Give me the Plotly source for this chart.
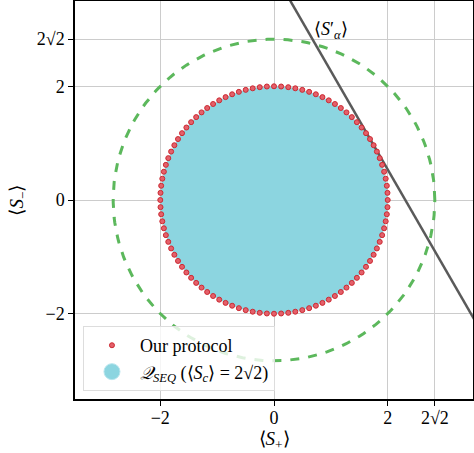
import numpy as np
import plotly.graph_objects as go

# circle of the protocol points and the quantum bound
inner_radius = 2.0
outer_radius = 2 * np.sqrt(2)
n_points = 100
tangent_angle = 30.0   # degrees, where the <S'_alpha> line touches the inner circle

tick_vals = [-2, 0, 2, 2 * np.sqrt(2)]
tick_text = ["\u22122", "0", "2", "2\u221a2"]

theta = np.linspace(0, 2 * np.pi, n_points, endpoint=False)
dots_x = inner_radius * np.cos(theta)
dots_y = inner_radius * np.sin(theta)

# tangent line  x cos(a) + y sin(a) = r
a = np.deg2rad(tangent_angle)
line_x = np.array([-1.0, 5.0])
line_y = (inner_radius - line_x * np.cos(a)) / np.sin(a)

serif = "Liberation Serif"
fig = go.Figure()

# filled disk (no legend)
disk_t = np.linspace(0, 2 * np.pi, 200)
fig.add_trace(go.Scatter(x=inner_radius * np.cos(disk_t), y=inner_radius * np.sin(disk_t),
                         mode="lines", fill="toself", fillcolor="#8cd5e0",
                         line=dict(color="#8cd5e0", width=0), showlegend=False, hoverinfo="skip"))

# dashed outer circle
fig.add_trace(go.Scatter(x=outer_radius * np.cos(disk_t), y=outer_radius * np.sin(disk_t),
                         mode="lines", line=dict(color="#5cb85c", width=3, dash="dash"),
                         showlegend=False, hoverinfo="skip"))

# tangent line
fig.add_trace(go.Scatter(x=line_x, y=line_y, mode="lines",
                         line=dict(color="#5a5a5a", width=2.5), showlegend=False))

fig.add_trace(go.Scatter(x=dots_x, y=dots_y, mode="markers", name="Our protocol",
                         marker=dict(size=5, color="#e4606a",
                                     line=dict(color="#cc2a32", width=1))))

# legend entry for disk
fig.add_trace(go.Scatter(x=[None], y=[None], mode="markers",
                         name="<i>\U0001d4ac<sub>SEQ</sub></i> (\u27e8<i>S<sub>c</sub></i>\u27e9 = 2\u221a2)",
                         marker=dict(size=22, color="#8cd5e0", line=dict(color="#b9e6ee", width=1))))

fig.add_annotation(x=1.0, y=2.98, text="\u27e8<i>S</i>\u2032<sub><i>\u03b1</i></sub>\u27e9",
                   showarrow=False, font=dict(family=serif, size=18, color="black"))

axis_common = dict(range=[-3.5, 3.5], tickvals=tick_vals, ticktext=tick_text,
                   showgrid=True, gridcolor="#cccccc", gridwidth=1, zeroline=False,
                   showline=True, linecolor="black", linewidth=1.5, mirror=True,
                   ticks="outside", ticklen=5, tickcolor="black", automargin=False,
                   tickfont=dict(family=serif, size=18, color="black"))

fig.update_xaxes(**axis_common, title=dict(text="\u27e8<i>S</i><sub>+</sub>\u27e9",
                                           font=dict(family=serif, size=19, color="black"), standoff=2))
fig.update_yaxes(**axis_common, title=dict(text="\u27e8<i>S</i><sub>\u2212</sub>\u27e9",
                                           font=dict(family=serif, size=19, color="black"), standoff=8))
fig.update_xaxes(ticklabelstandoff=-3)

fig.update_layout(
    width=474, height=453,
    margin=dict(l=75, r=1, t=1, b=54),
    plot_bgcolor="white", paper_bgcolor="white",
    legend=dict(x=0.02, y=0.02, xanchor="left", yanchor="bottom",
                bgcolor="rgba(255,255,255,0.8)", bordercolor="#dddddd", borderwidth=1,
                font=dict(family=serif, size=18, color="black"), itemsizing="trace",
                itemwidth=46, tracegroupgap=4),
)

fig.write_html("out.html", config={"displayModeBar": False},
               post_script="document.body.style.margin='0';")
